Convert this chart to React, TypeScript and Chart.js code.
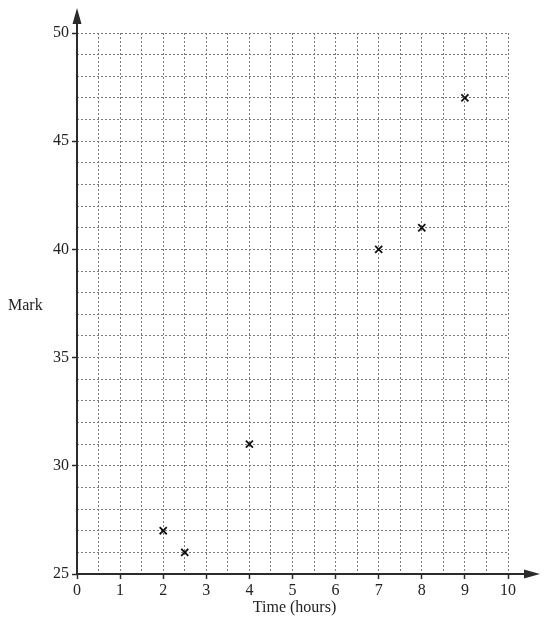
import { useEffect, useRef } from "react";
import { Chart, registerables } from "chart.js";

Chart.register(...registerables);

const times = [2, 2.5, 4, 7, 8, 9];
const marks = [27, 26, 31, 40, 41, 47];
const xRange = [0, 10];
const yRange = [25, 50];

const FONT = "'Liberation Serif', 'Times New Roman', serif";
const INK = "#2b2b2b";

// axis lines with arrow heads + horizontal "Mark" label
const axesPlugin = {
  id: "axesArrows",
  afterDraw(chart: any) {
    const { ctx, scales } = chart;
    const x = scales.x;
    const y = scales.y;
    const ox = x.getPixelForValue(xRange[0]);
    const oy = y.getPixelForValue(yRange[0]);
    const yTop = 8;
    const xEnd = 540;
    ctx.save();
    ctx.strokeStyle = INK;
    ctx.fillStyle = INK;
    ctx.lineWidth = 2;
    ctx.beginPath();
    ctx.moveTo(ox, oy + 1);
    ctx.lineTo(ox, yTop + 10);
    ctx.moveTo(ox - 1, oy);
    ctx.lineTo(xEnd - 10, oy);
    ctx.stroke();
    ctx.beginPath();
    ctx.moveTo(ox, yTop);
    ctx.lineTo(ox - 4.5, yTop + 16);
    ctx.lineTo(ox + 4.5, yTop + 16);
    ctx.closePath();
    ctx.fill();
    ctx.beginPath();
    ctx.moveTo(xEnd, oy);
    ctx.lineTo(xEnd - 16, oy - 4.5);
    ctx.lineTo(xEnd - 16, oy + 4.5);
    ctx.closePath();
    ctx.fill();

    ctx.font = `16px ${FONT}`;
    ctx.fillStyle = "#222";
    ctx.textAlign = "left";
    ctx.textBaseline = "middle";
    ctx.fillText("Mark", 8, (chart.chartArea.top + chart.chartArea.bottom) / 2 + 2);
    ctx.textAlign = "center";
    ctx.fillText("Time (hours)", (x.left + x.right) / 2 + 2, 608);
    ctx.restore();
  },
};

export default function App() {
  const canvasRef = useRef<HTMLCanvasElement>(null);

  useEffect(() => {
    document.body.style.margin = "0";
    if (!canvasRef.current) return;

    const chart = new Chart(canvasRef.current, {
      type: "scatter",
      data: {
        datasets: [{
          data: times.map((t, i) => ({ x: t, y: marks[i] })),
          pointStyle: "crossRot",
          pointRadius: 5,
          pointBorderWidth: 1.8,
          pointBorderColor: "#111",
          pointBackgroundColor: "#111",
        }],
      },
      options: {
        animation: false,
        responsive: true,
        maintainAspectRatio: false,
        layout: { padding: { left: 0, right: 49, top: 33, bottom: 23 } },
        plugins: { legend: { display: false }, tooltip: { enabled: false } },
        scales: {
          x: {
            type: "linear",
            min: xRange[0],
            max: xRange[1],
            afterFit: (s: any) => { s.height = 30; },
            border: { display: false, dash: [2, 2] },
            grid: {
              color: (c: any) => (c.tick && c.tick.value === xRange[0] ? "transparent" : "#7a7a7a"),
              lineWidth: 1,
              tickLength: 5,
              tickWidth: 1.5,
              tickColor: (c: any) => (c.tick && Number.isInteger(c.tick.value) ? INK : "transparent"),
            },
            ticks: {
              stepSize: 0.5,
              autoSkip: false,
              maxRotation: 0,
              padding: 2,
              color: "#222",
              font: { family: FONT, size: 16 },
              callback: (v: any) => (Number.isInteger(v) ? String(v) : ""),
            },
          },
          y: {
            type: "linear",
            min: yRange[0],
            max: yRange[1],
            afterFit: (s: any) => { s.width = 77; },
            border: { display: false, dash: [2, 2] },
            grid: {
              color: (c: any) => (c.tick && c.tick.value === yRange[0] ? "transparent" : "#7a7a7a"),
              lineWidth: 1,
              tickLength: 5,
              tickWidth: 1.5,
              tickColor: (c: any) => (c.tick && c.tick.value % 5 === 0 ? INK : "transparent"),
            },
            ticks: {
              stepSize: 1,
              autoSkip: false,
              padding: 3,
              color: "#222",
              font: { family: FONT, size: 16 },
              callback: (v: any) => (v % 5 === 0 ? String(v) : ""),
            },
          },
        },
      },
      plugins: [axesPlugin],
    });

    return () => chart.destroy();
  }, []);

  return (
    <div style={{ position: "absolute", left: 0, top: 0, width: 557, height: 627, background: "#fff" }}>
      <canvas ref={canvasRef} />
    </div>
  );
}
